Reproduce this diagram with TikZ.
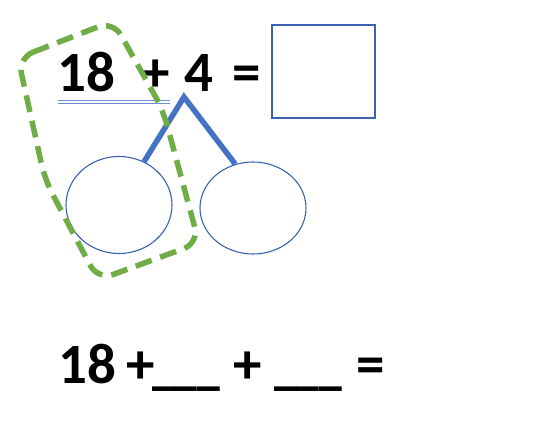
\documentclass[tikz,border=0pt]{standalone}
\usepackage{fontspec}
\setmainfont{Carlito}
\usetikzlibrary{shapes.geometric}
\definecolor{outl}{HTML}{3A62B0}
\definecolor{branch}{HTML}{4472C4}
\definecolor{uline}{HTML}{6A8FD8}
\definecolor{grn}{HTML}{70AD47}
\begin{document}
\begin{tikzpicture}[x=1pt,y=-1pt,
  num/.style={inner sep=0pt, anchor=base west, font=\fontsize{57}{60}\selectfont\bfseries},
  ring/.style={draw=outl, line width=1.1pt, ellipse, inner sep=0pt},
  branchline/.style={draw=branch, line width=5.5pt},
  dblline/.style={draw=uline, line width=0.7pt},
  loop/.style={draw=grn, line width=5.5pt, dash pattern=on 17pt off 9pt, rounded corners=16pt}]
\useasboundingbox (0,0) rectangle (559,420);
% top equation
\node[num] (t18) at (57,92) {18};
\node[num] (tplus) at (141,92) {+};
\node[num] (t4) at (184,92) {4};
\node[num] (teq) at (232,92) {=};
\node[draw=outl, line width=1.1pt, minimum width=103pt, minimum height=93pt, inner sep=0pt] (box) at (323.5,71.5) {};
% double underline
\coordinate (u1a) at (58,100); \coordinate (u1b) at (170,100);
\coordinate (u2a) at (58,103); \coordinate (u2b) at (170,103);
\draw[dblline] (u1a) -- (u1b);
\draw[dblline] (u2a) -- (u2b);
% circles
\node[ring, minimum width=106pt, minimum height=97pt] (c1) at (119,205) {};
\node[ring, minimum width=106pt, minimum height=92pt] (c2) at (253,208) {};
% branches
\coordinate (apex) at (184,97);
\draw[branchline] (c1.60) -- (apex) -- (c2.112);
% green dashed loop
\draw[loop] (18,58) -- (113,21) -- (163,110) -- (199,243) -- (98,280) -- (45,180) -- cycle;
% bottom equation
\node[num] (b18) at (58,383) {18};
\node[num] (bplus1) at (126,383) {+};
\node[num] (bbl1) at (152,383) {\scalebox{0.8}[1]{\_\_\_}};
\node[num] (bplus2) at (233,383) {+};
\node[num] (bbl2) at (274,383) {\scalebox{0.8}[1]{\_\_\_}};
\node[num] (beq) at (356,383) {=};
\end{tikzpicture}
\end{document}
